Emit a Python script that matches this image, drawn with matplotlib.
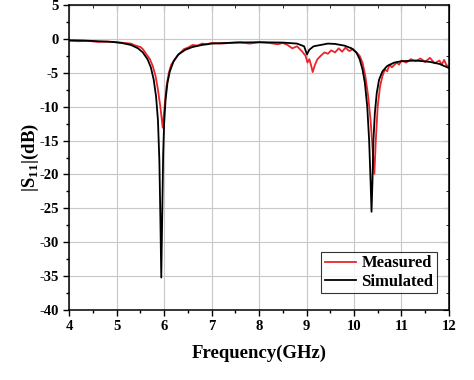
import matplotlib
matplotlib.use("Agg")
import matplotlib.pyplot as plt
from matplotlib.ticker import MultipleLocator

plt.rcParams['font.family'] = 'Liberation Serif'
plt.rcParams['font.weight'] = 'bold'
plt.rcParams['axes.unicode_minus'] = False
plt.rcParams['mathtext.fontset'] = 'custom'
plt.rcParams['mathtext.rm'] = 'Liberation Serif:bold'
plt.rcParams['mathtext.bf'] = 'Liberation Serif:bold'

# Simulated |S11| (dB)
sim_freq = [4.0, 4.3, 4.6, 4.9, 5.1, 5.3, 5.45, 5.55, 5.65, 5.72, 5.78, 5.83, 5.87,
            5.90, 5.92, 5.94, 5.96, 5.98, 6.00, 6.03, 6.07, 6.12, 6.2, 6.3, 6.45,
            6.6, 6.8, 7.0, 7.5, 8.0, 8.5, 8.8, 8.95, 9.01, 9.06, 9.15, 9.3, 9.45,
            9.6, 9.8, 9.95, 10.05, 10.12, 10.18, 10.23, 10.28, 10.32, 10.35, 10.37,
            10.39, 10.41, 10.44, 10.48, 10.53, 10.6, 10.7, 10.85, 11.0, 11.3, 11.6,
            11.8, 12.0]
sim_s11 = [-0.2, -0.25, -0.35, -0.45, -0.6, -0.9, -1.4, -2.0, -3.0, -4.2, -6.0, -8.5, -12,
           -18, -26, -35.2, -26, -17, -12.5, -9, -6.5, -4.8, -3.3, -2.3, -1.6,
           -1.2, -0.9, -0.7, -0.55, -0.5, -0.55, -0.7, -1.1, -2.3, -1.6, -1.1, -0.9, -0.7,
           -0.75, -1.0, -1.4, -2.0, -3.0, -4.5, -6.5, -10, -15, -21, -25.5,
           -21, -15, -11, -8, -6, -4.8, -4.0, -3.5, -3.3, -3.2, -3.4,
           -3.7, -4.3]

# Measured |S11| (dB)
meas_freq = [4.0, 4.2, 4.4, 4.6, 4.8, 5.0, 5.15, 5.3, 5.4, 5.5, 5.55, 5.62, 5.7, 5.76,
             5.82, 5.87, 5.92, 5.97, 6.01, 6.05, 6.1, 6.15, 6.2, 6.28, 6.35, 6.42, 6.5,
             6.6, 6.7, 6.8, 6.9, 7.0, 7.2, 7.4, 7.6, 7.8, 8.0, 8.2, 8.4, 8.5, 8.6, 8.7,
             8.8, 8.9, 8.98, 9.02, 9.06, 9.1, 9.13, 9.18, 9.23, 9.3, 9.38, 9.45, 9.52,
             9.6, 9.68, 9.75, 9.82, 9.9, 9.98, 10.05, 10.12, 10.18, 10.24, 10.3, 10.35,
             10.39, 10.43, 10.46, 10.5, 10.55, 10.6, 10.65, 10.7, 10.75, 10.8, 10.9,
             10.95, 11.0, 11.1, 11.2, 11.3, 11.4, 11.5, 11.6, 11.7, 11.8, 11.85, 11.9,
             11.95, 12.0]
meas_s11 = [-0.3, -0.35, -0.3, -0.45, -0.4, -0.5, -0.6, -0.7, -1.0, -1.2, -1.5, -2.2, -3.0, -4.0,
            -5.5, -7.5, -10, -13.1, -10, -7, -5, -3.8, -3.3, -2.5, -2.0, -1.5, -1.3,
            -0.9, -1.0, -0.7, -0.8, -0.6, -0.7, -0.6, -0.5, -0.7, -0.5, -0.6, -0.8, -0.6, -0.9, -1.4,
            -1.1, -1.8, -2.5, -3.5, -3.0, -4.0, -4.9, -3.8, -3.0, -2.5, -2.0, -2.2, -1.7,
            -2.0, -1.4, -1.9, -1.3, -1.8, -1.5, -2.0, -2.5, -3.5, -5.5, -8.5, -12,
            -16, -19.9, -15, -10, -7, -5.5, -4.5, -4.8, -3.8, -4.2, -3.5,
            -3.8, -3.2, -3.5, -3.0, -3.3, -2.9, -3.4, -2.8, -3.6, -3.2, -3.8, -3.1,
            -3.9, -4.0]

fig = plt.figure(figsize=(4.74, 3.8), dpi=100)
ax = fig.add_axes([0.146, 0.184, 0.801, 0.803])

ax.plot(meas_freq, meas_s11, color='#e8262b', lw=1.3, label='Measured')
ax.plot(sim_freq, sim_s11, color='black', lw=1.3, label='Simulated')

ax.set_xlim(4, 12)
ax.set_ylim(-40, 5)
ax.xaxis.set_major_locator(MultipleLocator(1))
ax.xaxis.set_minor_locator(MultipleLocator(0.5))
ax.yaxis.set_major_locator(MultipleLocator(5))
ax.yaxis.set_minor_locator(MultipleLocator(2.5))
ax.grid(True, which='major', color='#c8c8c8', lw=0.8)
ax.tick_params(which='both', direction='out', labelsize=10.5, width=1)
ax.tick_params(which='major', length=4)
ax.tick_params(which='minor', length=2.5)
for sp in ax.spines.values():
    sp.set_linewidth(1.1)

# ticks on top and right, pointing inward
top = ax.secondary_xaxis('top')
top.xaxis.set_major_locator(MultipleLocator(1))
top.xaxis.set_minor_locator(MultipleLocator(0.5))
top.tick_params(which='both', direction='in', labeltop=False)
top.tick_params(which='major', length=4)
top.tick_params(which='minor', length=2.5)
right = ax.secondary_yaxis('right')
right.yaxis.set_major_locator(MultipleLocator(5))
right.yaxis.set_minor_locator(MultipleLocator(2.5))
right.tick_params(which='both', direction='in', labelright=False)
right.tick_params(which='major', length=4)
right.tick_params(which='minor', length=2.5)

ax.set_xlabel('Frequency(GHz)', fontsize=13.5, fontweight='bold', labelpad=8)
ax.set_ylabel(r'|S$_{11}$|(dB)', fontsize=13.5, fontweight='bold', labelpad=-1)

leg = ax.legend(loc='lower right', fontsize=12, frameon=True, fancybox=False,
                edgecolor='black', handlelength=1.9, handletextpad=0.3,
                borderpad=0.2, labelspacing=0.15, borderaxespad=0.0,
                bbox_to_anchor=(0.968, 0.055))
leg.get_frame().set_linewidth(0.8)

fig.savefig('out.png', dpi=100)
